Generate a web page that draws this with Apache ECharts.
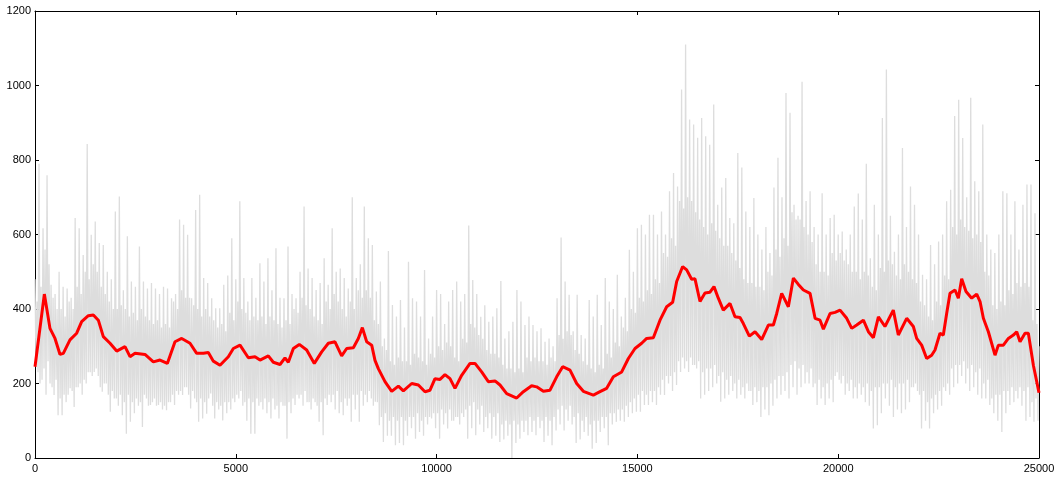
<!DOCTYPE html>
<html>
<head>
<meta charset="utf-8">
<script src="https://cdn.jsdelivr.net/npm/echarts@6/dist/echarts.min.js"></script>
<style>
html,body{margin:0;padding:0;background:#fff;}
#chart{width:1061px;height:479px;}
</style>
</head>
<body>
<div id="chart"></div>
<script>
// x tick labels / y tick labels
const xTicks = [0, 5000, 10000, 15000, 20000, 25000];
const yTicks = [0, 200, 400, 600, 800, 1000, 1200];

// raw (gray) series: one value every rawStep units
const rawStep = 25;
const rawValues = [
480,250,420,230,790,200,460,210, 617,240,560,170,759,260,520,200, 465,190,430,169,440,210,400,115,
500,160,400,115,460,170,380,150, 455,170,420,187,430,180,400,137, 644,190,460,190,617,200,440,170,
545,210,500,200,843,230,480,230, 599,220,520,231,635,240,500,220, 577,190,460,178,572,200,440,200,
500,170,420,124,480,180,400,160, 662,160,400,140,702,170,410,115, 450,150,400,65,595,170,380,97,
474,150,390,120,460,160,370,140, 568,150,400,83,474,170,380,160, 455,140,370,142,470,150,360,160,
455,140,370,142,440,150,350,130, 460,140,360,128,455,150,350,150, 429,170,420,142,440,180,400,170,
640,180,450,169,626,190,430,190, 599,170,430,133,429,180,410,160, 666,150,400,97,707,160,380,106,
483,150,400,119,470,160,380,173, 429,140,370,106,402,150,350,130, 402,140,360,101,465,150,340,120,
490,150,390,130,590,160,370,150, 480,170,420,160,689,180,400,140, 483,150,390,100,420,160,370,65,
483,150,380,65,430,160,370,140, 523,150,380,130,474,160,360,120, 536,150,380,106,450,160,370,130,
563,140,360,106,430,150,350,140, 429,140,370,52,568,150,360,120, 440,160,400,142,429,170,390,160,
500,170,430,140,675,180,410,150, 509,150,400,130,483,160,380,150, 451,140,370,97,470,150,360,61,
536,160,420,142,465,170,400,150, 617,170,440,130,500,180,420,120, 509,150,400,115,483,160,380,140,
455,160,420,97,700,170,400,130, 483,170,450,97,520,180,430,140, 675,170,450,150,590,180,430,160,
572,140,370,151,447,150,360,88, 474,110,300,43,321,120,290,60, 556,100,260,60,411,110,250,34,
380,100,270,40,424,110,260,34, 350,100,260,60,527,110,250,80, 429,110,280,52,420,120,270,70,
380,100,260,60,505,110,250,90, 321,110,280,106,380,120,270,80, 451,120,300,52,440,130,290,90,
360,120,310,79,420,130,300,100, 451,100,270,110,474,110,260,90, 420,120,320,110,440,130,310,52,
624,140,360,80,478,150,350,61, 440,130,330,90,379,140,320,70, 410,110,290,80,366,120,280,52,
380,110,280,60,402,120,270,43, 475,90,250,50,321,100,240,60, 340,90,240,0,366,100,230,40,
451,90,240,52,420,100,230,70, 357,100,270,61,380,110,260,70, 357,100,270,61,340,110,260,80,
348,100,260,43,312,110,250,60, 321,100,270,34,300,110,260,74, 429,130,330,90,592,140,320,74,
474,130,340,100,438,140,330,90, 340,110,290,40,438,120,280,50, 330,100,260,70,321,110,250,60,
424,90,240,25,380,100,230,40, 438,100,250,70,357,110,240,80, 483,110,280,34,420,120,270,90,
400,120,310,97,492,130,300,100, 380,130,350,97,430,140,340,110, 559,150,400,120,500,160,390,124,
617,170,430,124,626,180,420,142, 600,170,450,142,653,180,440,150, 653,180,480,142,600,190,470,170,
662,210,550,169,600,220,540,200, 716,220,590,180,765,230,570,196, 729,260,690,231,989,270,670,240,
1110,260,700,231,909,270,690,250, 895,250,660,240,860,260,640,160, 913,230,620,170,864,240,600,180,
841,240,630,190,949,250,610,200, 680,220,590,151,726,230,570,160, 752,210,570,170,644,220,550,180,
630,200,530,160,819,210,510,170, 780,190,480,160,662,200,470,180, 620,180,470,142,698,190,460,150,
600,180,460,110,560,190,450,130, 620,190,500,115,550,200,490,140, 726,210,560,160,806,220,540,170,
700,220,590,180,980,230,570,160, 927,250,660,190,680,260,640,170, 650,240,640,190,1010,250,620,200,
690,230,600,200,716,240,580,190, 620,200,520,142,600,210,500,160, 711,190,500,142,600,200,490,160,
644,210,550,150,653,220,530,230, 600,210,550,200,608,220,530,170, 560,200,520,180,600,210,500,160,
675,190,500,160,710,200,480,170, 640,190,500,150,790,200,490,140, 536,180,460,79,680,190,450,88,
600,190,510,120,913,200,500,160, 1043,200,530,140,650,210,520,110, 554,190,490,130,600,200,480,120,
832,200,520,130,620,210,500,150, 729,190,480,190,680,200,470,180, 600,170,420,79,492,180,410,100,
480,150,380,79,572,160,370,120, 520,170,420,130,581,180,410,140, 600,190,490,180,689,200,480,170,
720,240,620,190,918,250,600,200, 962,250,640,220,859,260,620,200, 700,240,610,180,967,250,590,190,
743,230,600,170,716,240,580,160, 895,200,500,160,600,210,490,142, 560,160,410,120,550,170,400,100,
600,170,420,70,716,180,410,120, 711,180,450,142,600,190,440,150, 689,180,470,160,560,190,460,140,
680,180,470,100,734,190,460,110, 734,150,370,97,657,160,360,100,
300
];

// smoothed (red) series
const smoothX = [0,233,373,498,623,705,871,1038,1162,1328,1453,1577,1701,1868,2034,2241,2366,2490,2739,2947,3113,3295,3486,3653,3860,4026,4192,4316,4441,4607,4814,4939,5105,5312,5478,5603,5810,5934,6101,6225,6308,6433,6582,6765,6955,7138,7304,7470,7636,7761,7927,8051,8151,8259,8384,8466,8549,8715,8882,9048,9172,9380,9546,9711,9836,9960,10085,10209,10334,10458,10624,10832,10956,11122,11288,11454,11579,11745,11994,12160,12367,12492,12658,12824,12990,13139,13322,13488,13654,13903,14069,14235,14401,14609,14775,14940,15106,15231,15397,15563,15729,15878,15978,16127,16227,16351,16434,16559,16683,16808,16907,17015,17139,17306,17430,17555,17638,17787,17929,18095,18261,18386,18469,18593,18759,18884,19008,19133,19299,19424,19548,19631,19797,19922,20046,20212,20337,20461,20627,20752,20876,21001,21165,21372,21497,21705,21871,21954,22078,22203,22327,22410,22535,22618,22701,22784,22909,22992,23075,23182,23324,23449,23532,23615,23739,23905,23988,24113,24237,24362,24445,24528,24652,24735,24860,25000];
const smoothY = [245,440,348,321,278,281,317,335,366,382,384,370,326,308,287,299,272,281,278,258,263,254,312,321,308,281,281,283,260,249,272,294,303,269,272,263,274,257,251,269,257,294,305,290,254,285,308,312,274,294,296,321,350,312,303,262,240,205,179,193,180,200,196,178,182,213,211,224,213,187,222,254,254,231,205,207,196,173,161,178,194,191,179,182,218,245,236,200,179,169,178,187,218,231,267,294,308,321,323,370,406,418,474,514,505,480,481,420,443,445,460,429,397,415,379,377,361,327,339,318,357,357,388,442,406,483,466,451,442,375,370,346,388,391,397,375,348,357,370,339,323,379,353,397,330,375,353,321,303,267,276,290,335,330,388,442,451,429,481,447,429,440,420,375,339,276,303,303,321,330,339,312,335,335,249,175];

const rawData = rawValues.map((v, i) => [i * rawStep, v]);
const smoothData = smoothX.map((x, i) => [x, smoothY[i]]);

const xMin = xTicks[0], xMax = xTicks[xTicks.length - 1], xInt = xTicks[1] - xTicks[0];
const yMin = yTicks[0], yMax = yTicks[yTicks.length - 1], yInt = yTicks[1] - yTicks[0];

const font = { fontFamily: 'Liberation Sans', fontSize: 11, color: '#000', formatter: (v) => String(v) };
function axisCommon(extra) {
  return Object.assign({
    type: 'value',
    axisLine: { show: true, onZero: false, lineStyle: { color: '#000', width: 1 } },
    axisTick: { show: true, inside: true, length: 4, lineStyle: { color: '#000' } },
    splitLine: { show: false },
  }, extra);
}

const chart = echarts.init(document.getElementById('chart'), null, { renderer: 'canvas' });
chart.setOption({
  animation: false,
  backgroundColor: '#fff',
  grid: { left: 35, right: 22, top: 11, bottom: 21, containLabel: false },
  xAxis: [
    axisCommon({ position: 'bottom', min: xMin, max: xMax, interval: xInt,
      axisLabel: Object.assign({ margin: 5, showMinLabel: true, showMaxLabel: true }, font) }),
    axisCommon({ position: 'top', min: xMin, max: xMax, interval: xInt, axisLabel: { show: false } })
  ],
  yAxis: [
    axisCommon({ position: 'left', min: yMin, max: yMax, interval: yInt,
      axisLabel: Object.assign({ margin: 4 }, font) }),
    axisCommon({ position: 'right', min: yMin, max: yMax, interval: yInt, axisLabel: { show: false } })
  ],
  series: [
    { type: 'line', data: rawData, xAxisIndex: 0, yAxisIndex: 0, showSymbol: false, symbol: 'none',
      silent: true, z: 1, sampling: false, lineStyle: { color: '#dddddd', width: 1.3 } },
    { type: 'line', data: smoothData, xAxisIndex: 0, yAxisIndex: 0, showSymbol: false, symbol: 'none',
      silent: true, z: 2, lineStyle: { color: '#ff0000', width: 3 } }
  ]
});
</script>
</body>
</html>
